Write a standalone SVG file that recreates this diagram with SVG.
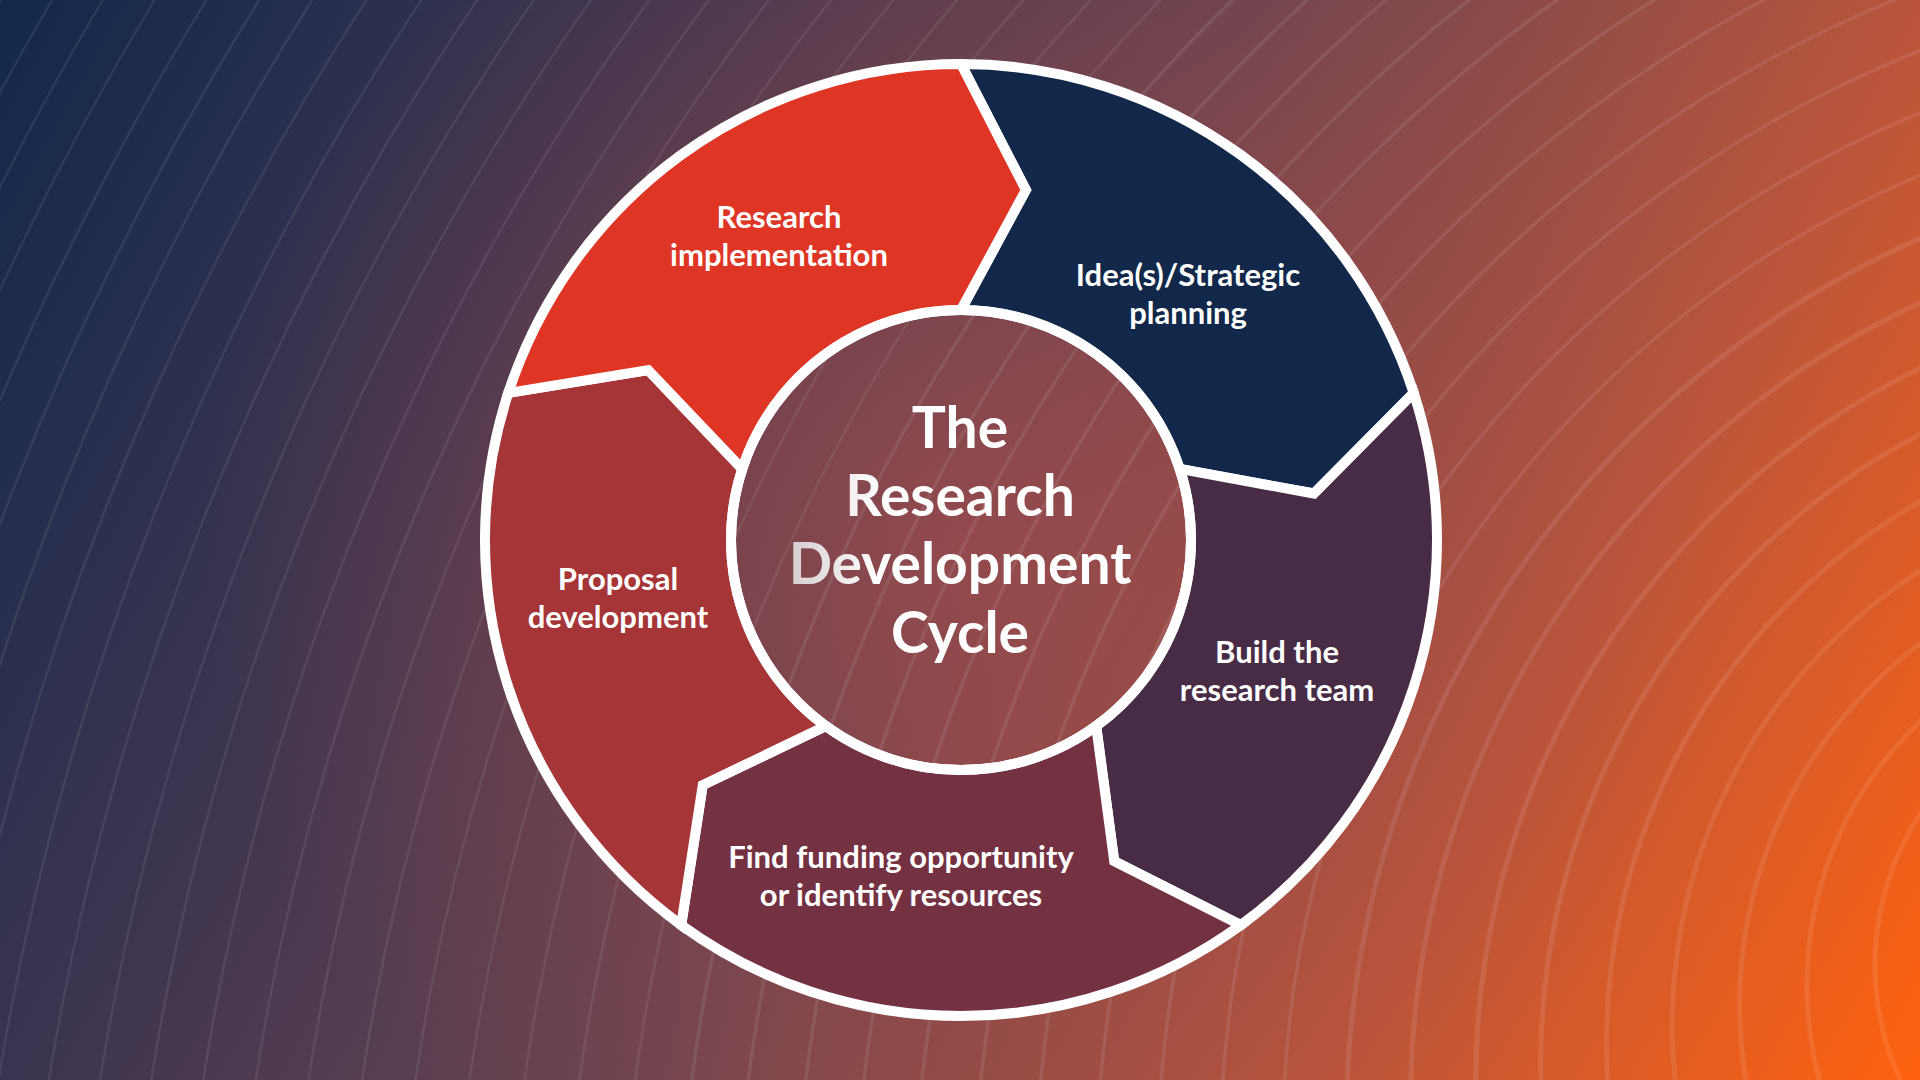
<svg xmlns="http://www.w3.org/2000/svg" width="1920" height="1080" viewBox="0 0 1920 1080">
  <defs>
    <linearGradient id="bg" gradientUnits="userSpaceOnUse" x1="0" y1="0" x2="1920" y2="1080">
      <stop offset="0" stop-color="#12284B"/>
      <stop offset="0.24" stop-color="#393450"/>
      <stop offset="0.5" stop-color="#6E4550"/>
      <stop offset="0.76" stop-color="#BA553C"/>
      <stop offset="1" stop-color="#FF620F"/>
    </linearGradient>
    <radialGradient id="glow" gradientUnits="userSpaceOnUse" cx="961" cy="540" r="760">
      <stop offset="0" stop-color="#C0504A" stop-opacity="0.45"/>
      <stop offset="0.6" stop-color="#A04848" stop-opacity="0.25"/>
      <stop offset="1" stop-color="#A04848" stop-opacity="0"/>
    </radialGradient>
    <linearGradient id="titleFill" gradientUnits="userSpaceOnUse" x1="790" y1="0" x2="880" y2="0">
      <stop offset="0" stop-color="#D6CFD0"/>
      <stop offset="1" stop-color="#FFFFFF"/>
    </linearGradient>
  </defs>
  <style>
    .seg { stroke: #FFFFFF; stroke-width: 10; stroke-linejoin: miter; }
    .lbl { font-family: Lato, "Liberation Sans", sans-serif; font-weight: 700; font-size: 31px; fill: #FFFFFF; text-anchor: middle; }
    .title { font-family: Lato, "Liberation Sans", sans-serif; font-weight: 700; font-size: 57px; fill: url(#titleFill); text-anchor: middle; }
    .rings circle { fill: none; stroke: #FFFFFF; }
  </style>

  <rect x="0" y="0" width="1920" height="1080" fill="url(#bg)"/>
  <rect x="0" y="0" width="1920" height="1080" fill="url(#glow)"/>

  <g class="rings">
    <g stroke-width="5" stroke-opacity="0.09">
      <circle cx="2150" cy="965" r="275"/>
      <circle cx="2170.9" cy="985.1" r="364"/>
      <circle cx="2191.6" cy="1005" r="452"/>
      <circle cx="2212.3" cy="1024.9" r="540"/>
      <circle cx="2232.5" cy="1044.3" r="626"/>
      <circle cx="2252.7" cy="1063.8" r="712"/>
      <circle cx="2272.7" cy="1083" r="797"/>
      <circle cx="2292.6" cy="1102.2" r="882"/>
      <circle cx="2312.4" cy="1121.2" r="966"/>
    </g>
    <g stroke-width="3.5" stroke-opacity="0.085">
      <circle cx="2331.9" cy="1139.9" r="1049"/>
      <circle cx="2351.2" cy="1158.5" r="1131"/>
      <circle cx="2370.4" cy="1177" r="1213"/>
      <circle cx="2389.5" cy="1195.3" r="1294"/>
      <circle cx="2408.3" cy="1213.4" r="1374"/>
      <circle cx="2427.1" cy="1231.5" r="1454"/>
      <circle cx="2445.6" cy="1249.3" r="1533"/>
      <circle cx="2464" cy="1266.9" r="1611"/>
      <circle cx="2482.3" cy="1284.6" r="1689"/>
      <circle cx="2500.4" cy="1302" r="1766"/>
      <circle cx="2518.2" cy="1319.1" r="1842"/>
    </g>
    <g stroke-width="2.5" stroke-opacity="0.08">
      <circle cx="2536.1" cy="1336.3" r="1918"/>
      <circle cx="2553.7" cy="1353.3" r="1993"/>
      <circle cx="2571.1" cy="1370" r="2067"/>
      <circle cx="2588.5" cy="1386.7" r="2141"/>
      <circle cx="2605.7" cy="1403.2" r="2214"/>
      <circle cx="2622.6" cy="1419.5" r="2286"/>
      <circle cx="2639.5" cy="1435.8" r="2358"/>
      <circle cx="2656.2" cy="1451.8" r="2429"/>
      <circle cx="2672.9" cy="1467.9" r="2500"/>
      <circle cx="2689.3" cy="1483.7" r="2570"/>
      <circle cx="2705.5" cy="1499.3" r="2639"/>
      <circle cx="2721.8" cy="1514.9" r="2708"/>
      <circle cx="2737.7" cy="1530.2" r="2776"/>
      <circle cx="2753.7" cy="1545.6" r="2844"/>
      <circle cx="2769.5" cy="1560.7" r="2911"/>
      <circle cx="2785" cy="1575.7" r="2977"/>
      <circle cx="2800.5" cy="1590.6" r="3043"/>
      <circle cx="2815.8" cy="1605.3" r="3108"/>
      <circle cx="2831" cy="1619.9" r="3173"/>
      <circle cx="2846.1" cy="1634.4" r="3237"/>
      <circle cx="2861.1" cy="1648.9" r="3301"/>
      <circle cx="2875.9" cy="1663.1" r="3364"/>
    </g>
  </g>

  <g id="node-ideas">
    <path class="seg" fill="#12284A" d="M 961 64 A 476 476 0 0 1 1413.7 392.91 L 1313.95 493.53 L 1179.74 468.93 A 230 230 0 0 0 961 310 L 1025.88 189.96 Z"/>
    <text class="lbl" x="1188" y="286">Idea(s)/Strategic</text>
    <text class="lbl" x="1188" y="324">planning</text>
  </g>

  <g id="node-team">
    <path class="seg" fill="#482C46" d="M 1413.7 392.91 A 476 476 0 0 1 1240.79 925.09 L 1114.26 861.32 L 1096.19 726.07 A 230 230 0 0 0 1179.74 468.93 L 1313.95 493.53 Z"/>
    <text class="lbl" x="1277" y="663">Build the</text>
    <text class="lbl" x="1277" y="701">research team</text>
  </g>

  <g id="node-funding">
    <path class="seg" fill="#743142" d="M 1240.79 925.09 A 476 476 0 0 1 681.21 925.09 L 702.77 785.05 L 825.81 726.07 A 230 230 0 0 0 1096.19 726.07 L 1114.26 861.32 Z"/>
    <text class="lbl" x="901" y="868">Find funding opportunity</text>
    <text class="lbl" x="901" y="906">or identify resources</text>
  </g>

  <g id="node-proposal">
    <path class="seg" fill="#A53536" d="M 681.21 925.09 A 476 476 0 0 1 508.3 392.91 L 648.14 370.13 L 742.26 468.93 A 230 230 0 0 0 825.81 726.07 L 702.77 785.05 Z"/>
    <text class="lbl" x="618" y="590">Proposal</text>
    <text class="lbl" x="618" y="628">development</text>
  </g>

  <g id="node-implementation">
    <path class="seg" fill="#DF3524" d="M 508.3 392.91 A 476 476 0 0 1 961 64 L 1025.88 189.96 L 961 310 A 230 230 0 0 0 742.26 468.93 L 648.14 370.13 Z"/>
    <text class="lbl" x="779" y="228">Research</text>
    <text class="lbl" x="779" y="266">implementation</text>
  </g>

  <g id="node-center">
    <circle cx="961" cy="540" r="230" fill="none" stroke="#FFFFFF" stroke-width="10"/>
    <text class="title" x="960" y="448">The</text>
    <text class="title" x="960" y="516">Research</text>
    <text class="title" x="960" y="584">Development</text>
    <text class="title" x="960" y="653">Cycle</text>
  </g>

  <g id="connectors"></g>
</svg>
